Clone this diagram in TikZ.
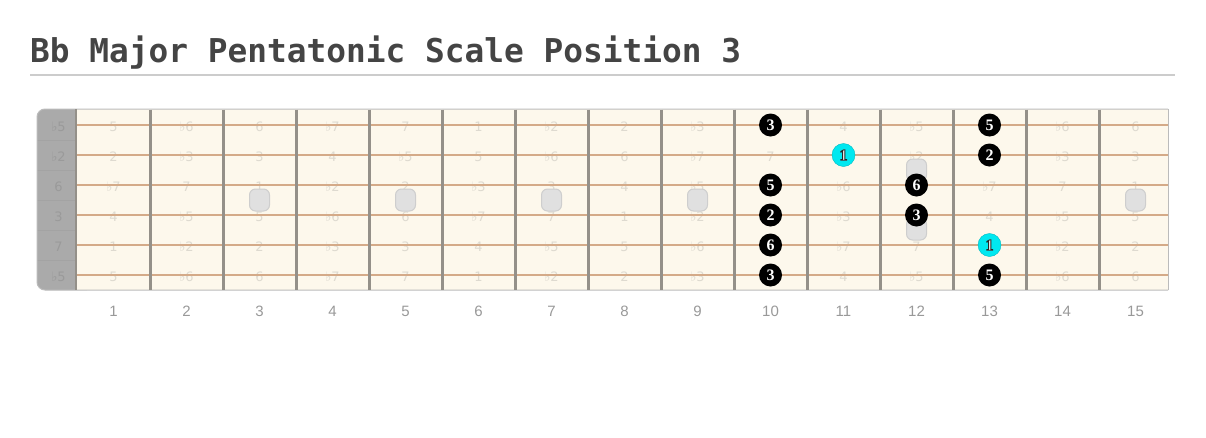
\documentclass[tikz,border=0pt]{standalone}
\usepackage{fontspec}
\setmainfont{DejaVu Sans}
\newfontfamily\titlefont{DejaVu Sans Mono}
\newfontfamily\numfont{Liberation Sans}
\newfontfamily\notefont{Liberation Serif}
\definecolor{titlegray}{HTML}{444444}
\definecolor{rulegray}{HTML}{CCCCCC}
\definecolor{boardbg}{HTML}{FDF8EC}
\definecolor{nutgray}{HTML}{AAAAAA}
\definecolor{nuttext}{HTML}{9A9A9A}
\definecolor{nutline}{HTML}{A3A3A3}
\definecolor{bordergray}{HTML}{BBBBBB}
\definecolor{stringc}{HTML}{D4AA88}
\definecolor{fretc}{HTML}{949089}
\definecolor{ivlc}{HTML}{DEDAD0}
\definecolor{inlayfill}{HTML}{E0E0E0}
\definecolor{inlaydraw}{HTML}{CECECE}
\definecolor{fretnum}{HTML}{999999}
\definecolor{notecyan}{HTML}{00E8F0}
\tikzset{
  ivl/.style={font=\fontsize{13}{14}\selectfont, text=ivlc, inner sep=0pt, anchor=center},
  nutlbl/.style={font=\fontsize{13}{14}\selectfont, text=nuttext, inner sep=0pt, anchor=center},
  fretlbl/.style={font=\numfont\fontsize{15}{16}\selectfont, text=fretnum, inner sep=0pt, anchor=center},
  inlay/.style={draw=inlaydraw, fill=inlayfill, line width=1pt, rounded corners=6pt, minimum width=20pt, minimum height=22pt, inner sep=0pt},
  blacknote/.style={circle, fill=black, minimum size=23pt, inner sep=0pt, text=white, font=\notefont\bfseries\fontsize{16}{16}\selectfont},
  cyannote/.style={circle, fill=notecyan, draw=notecyan!80!black, line width=0.4pt, minimum size=23pt, inner sep=0pt, text=white, font=\notefont\bfseries\fontsize{16}{16}\selectfont},
  strline/.style={stringc, line width=2pt},
  fretline/.style={fretc, line width=3pt},
}
\newcommand{\outlinedigit}[1]{%
  {\color{white}\special{pdf:literal direct 2 Tr 0.9 w 0.15 0.15 0.15 RG}#1\special{pdf:literal direct 0 Tr}}}
\def\skipmark{x}
\newcommand{\ivlrow}[2]{% #1 = string index, #2 = list (x = hidden under a note)
  \foreach \t [count=\f] in {#2} {%
    \edef\cur{\t}%
    \ifx\cur\skipmark\else
      \node[ivl] (l-#1-\f) at ({113.5+73*(\f-1)},{125+30*(#1-1)+1.5}) {\t};
    \fi}}
\begin{document}
\begin{tikzpicture}[x=1pt,y=-1pt]
\useasboundingbox (0,0) rectangle (1206,437);
\fill[white] (0,0) rectangle (1206,437);
% title
\node[anchor=base west, inner sep=0pt, text=titlegray, font=\titlefont\bfseries\fontsize{32.8}{36}\selectfont] (title) at (30,62) {Bb Major Pentatonic Scale Position 3};
\draw[rulegray, line width=2pt] (30,75) -- (1175,75);
% nut and board
\fill[nutgray, rounded corners=8pt] (37,109) rectangle (95,290);
\fill[boardbg] (77,109) rectangle (1168,290);
\foreach \yy in {140,170,200,230,260} \draw[nutline, line width=0.6pt] (37,\yy) -- (75,\yy);
\draw[bordergray, line width=1pt, rounded corners=8pt] (1168,109) -- (37,109) -- (37,290) -- (1168,290);
\draw[bordergray, line width=1pt] (1168,109) -- (1168,290);
% nut labels
\foreach \t [count=\s] in {♭5,♭2,6,3,7,♭5}
  \node[nutlbl] (nut-\s) at (58.5,{125+30*(\s-1)+1.5}) {\t};
% interval labels
\ivlrow{1}{5,♭6,6,♭7,7,1,♭2,2,♭3,x,4,♭5,x,♭6,6}
\ivlrow{2}{2,♭3,3,4,♭5,5,♭6,6,♭7,7,x,♭2,x,♭3,3}
\ivlrow{3}{♭7,7,1,♭2,2,♭3,3,4,♭5,x,♭6,x,♭7,7,1}
\ivlrow{4}{4,♭5,5,♭6,6,♭7,7,1,♭2,x,♭3,x,4,♭5,5}
\ivlrow{5}{1,♭2,2,♭3,3,4,♭5,5,♭6,x,♭7,7,x,♭2,2}
\ivlrow{6}{5,♭6,6,♭7,7,1,♭2,2,♭3,x,4,♭5,x,♭6,6}
% strings
\foreach \s in {0,...,5}
  \draw[strline] (76,{125+30*\s}) -- (1168,{125+30*\s});
% frets and nut edge
\draw[fretline, line width=2.5pt] (75.8,109) -- (75.8,290);
\foreach \k in {0,...,13}
  \draw[fretline] ({150+73*\k},109.5) -- ({150+73*\k},289.5);
% inlays
\foreach \f in {3,5,7,9,15}
  \node[inlay] (dot-\f) at ({113.5+73*(\f-1)},200) {};
\node[inlay] (dot-12a) at (916.5,170) {};
\node[inlay] (dot-12b) at (916.5,229) {};
% notes
\node[blacknote] (n-1-10) at (770.5,125) {3};
\node[blacknote] (n-1-13) at (989.5,125) {5};
\node[cyannote]  (n-2-11) at (843.5,155) {\outlinedigit{1}};
\node[blacknote] (n-2-13) at (989.5,155) {2};
\node[blacknote] (n-3-10) at (770.5,185) {5};
\node[blacknote] (n-3-12) at (916.5,185) {6};
\node[blacknote] (n-4-10) at (770.5,215) {2};
\node[blacknote] (n-4-12) at (916.5,215) {3};
\node[blacknote] (n-5-10) at (770.5,245) {6};
\node[cyannote]  (n-5-13) at (989.5,245) {\outlinedigit{1}};
\node[blacknote] (n-6-10) at (770.5,275) {3};
\node[blacknote] (n-6-13) at (989.5,275) {5};
% fret numbers
\foreach \f in {1,...,15}
  \node[fretlbl] (fn-\f) at ({113.5+73*(\f-1)},311) {\f};
\end{tikzpicture}
\end{document}
